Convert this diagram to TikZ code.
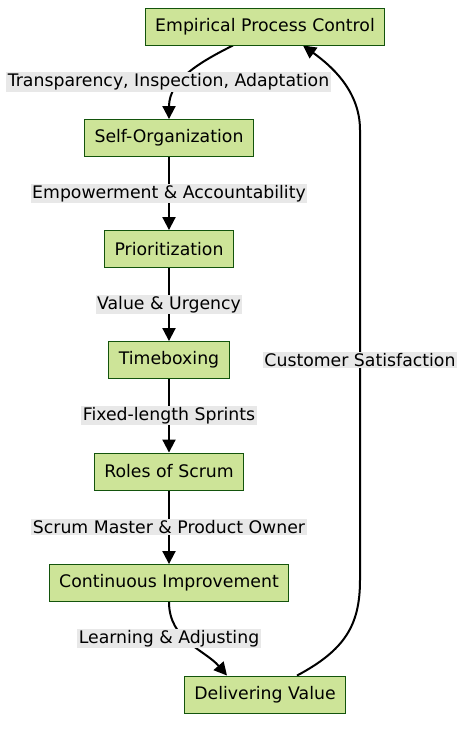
\documentclass[tikz,border=0pt]{standalone}
\usepackage{fontspec}
\setmainfont{DejaVu Sans}
\usepackage{tikz}
\usetikzlibrary{arrows.meta}
\pgfdeclarelayer{bg}
\pgfsetlayers{bg,main}
\definecolor{boxfill}{HTML}{CDE498}
\definecolor{boxline}{HTML}{13540C}
\definecolor{lblfill}{HTML}{E8E8E8}

\begin{document}
\begin{tikzpicture}[x=1pt, y=-1pt,
        stepbox/.style={draw=boxline, line width=0.9pt, fill=boxfill,
                minimum height=37pt, inner xsep=10pt, font=\fontsize{17.3}{20}\selectfont},
        lbl/.style={fill=lblfill, inner sep=1.5pt, font=\fontsize{17.3}{20}\selectfont},
        flow/.style={line width=2pt, -{Triangle[length=13pt,width=13pt]}}]
        \useasboundingbox (0,0) rectangle (474,734);
        \node (v0) [stepbox] at (265, 26.5) {Empirical Process Control};
        \node (v1) [stepbox] at (169, 138) {Self-Organization};
        \node (v2) [stepbox] at (169, 249) {Prioritization};
        \node (v3) [stepbox] at (169, 360) {Timeboxing};
        \node (v4) [stepbox] at (169, 471.5) {Roles of Scrum};
        \node (v5) [stepbox] at (169, 583) {Continuous Improvement};
        \node (v6) [stepbox] at (265, 694.5) {Delivering Value};
        \node (e0) [lbl] at (168.5, 82) {Transparency, Inspection, Adaptation};
        \node (e1) [lbl] at (169, 193.5) {Empowerment \& Accountability};
        \node (e2) [lbl] at (169, 304.5) {Value \& Urgency};
        \node (e3) [lbl] at (169, 415.5) {Fixed-length Sprints};
        \node (e4) [lbl] at (169, 527) {Scrum Master \& Product Owner};
        \node (e5) [lbl] at (169, 638.5) {Learning \& Adjusting};
        \node (e6) [lbl] at (360, 360) {Customer Satisfaction};
        \begin{pgfonlayer}{bg}
                \draw [flow] ([xshift=-32pt]v0.south) .. controls (200, 62) and (169, 80) .. (v1.north);
                \draw [flow] (v1) -- (v2);
                \draw [flow] (v2) -- (v3);
                \draw [flow] (v3) -- (v4);
                \draw [flow] (v4) -- (v5);
                \draw [flow] (v5.south) .. controls (169, 640) and (205, 650) .. ([xshift=-38pt]v6.north);
                \draw [flow] ([xshift=32pt]v6.north) .. controls (345, 650) and (360, 625) .. (360, 580)
                        -- (360, 130) .. controls (360, 90) and (330, 65) .. ([xshift=38pt]v0.south);
        \end{pgfonlayer}
\end{tikzpicture}
\end{document}
